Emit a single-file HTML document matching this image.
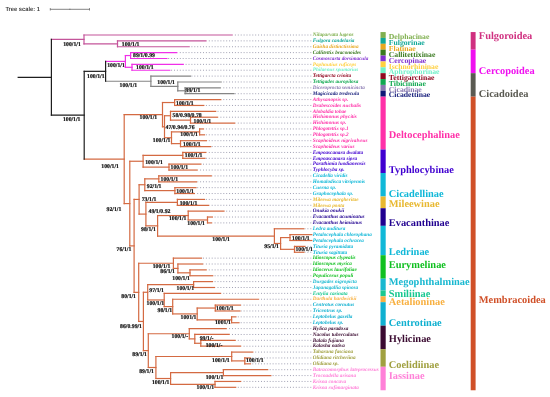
<!DOCTYPE html>
<html><head><meta charset="utf-8"><style>
html,body{margin:0;padding:0;background:#fff;}
svg{display:block;text-rendering:geometricPrecision;}
</style></head><body>
<svg width="550" height="397" viewBox="0 0 550 397">
<rect width="550" height="397" fill="#fff"/>
<text x="5.4" y="11.1" font-family="Liberation Sans, sans-serif" font-weight="bold" font-size="5.95" fill="#404040" textLength="34.6" lengthAdjust="spacingAndGlyphs">Tree scale: 1</text>
<g stroke="#666" stroke-width="0.8" fill="none"><path d="M50.3 9.3H89.5M50.3 8.1V10.5M89.5 8.1V10.5M69.9 8.7V9.9"/></g>
<g stroke="#a2a2b4" stroke-width="1.0" stroke-dasharray="1.0 1.9" fill="none">
<path d="M311.3 35.00H233.2"/>
<path d="M311.3 40.87H207.0"/>
<path d="M311.3 46.74H190.2"/>
<path d="M311.3 52.62H177.8"/>
<path d="M311.3 58.49H167.9"/>
<path d="M311.3 64.36H184.3"/>
<path d="M311.3 70.23H170.8"/>
<path d="M311.3 76.10H191.5"/>
<path d="M311.3 81.98H222.2"/>
<path d="M311.3 87.85H221.3"/>
<path d="M311.3 93.72H235.0"/>
<path d="M311.3 99.59H221.8"/>
<path d="M311.3 105.46H204.8"/>
<path d="M311.3 111.34H216.7"/>
<path d="M311.3 117.21H218.6"/>
<path d="M311.3 123.08H235.7"/>
<path d="M311.3 128.95H204.5"/>
<path d="M311.3 134.82H205.5"/>
<path d="M311.3 140.70H207.5"/>
<path d="M311.3 146.57H211.7"/>
<path d="M311.3 152.44H206.9"/>
<path d="M311.3 158.31H206.0"/>
<path d="M311.3 164.18H201.9"/>
<path d="M311.3 170.06H198.2"/>
<path d="M311.3 175.93H212.3"/>
<path d="M311.3 181.80H197.6"/>
<path d="M311.3 187.67H197.0"/>
<path d="M311.3 193.54H195.4"/>
<path d="M311.3 199.42H205.5"/>
<path d="M311.3 205.29H209.7"/>
<path d="M311.3 211.16H225.0"/>
<path d="M311.3 217.03H213.4"/>
<path d="M311.3 222.90H212.6"/>
<path d="M311.3 228.78H304.9"/>
<path d="M311.3 246.39H306.0"/>
<path d="M311.3 252.26H305.0"/>
<path d="M311.3 258.14H202.5"/>
<path d="M311.3 264.01H203.6"/>
<path d="M311.3 269.88H207.2"/>
<path d="M311.3 275.75H213.7"/>
<path d="M311.3 281.62H213.5"/>
<path d="M311.3 287.50H215.5"/>
<path d="M311.3 293.37H221.6"/>
<path d="M311.3 299.24H259.6"/>
<path d="M311.3 305.11H241.4"/>
<path d="M311.3 310.98H241.0"/>
<path d="M311.3 316.86H236.9"/>
<path d="M311.3 322.73H240.0"/>
<path d="M311.3 328.60H227.2"/>
<path d="M311.3 334.47H230.2"/>
<path d="M311.3 340.34H236.2"/>
<path d="M311.3 346.22H241.6"/>
<path d="M311.3 352.09H253.8"/>
<path d="M311.3 357.96H251.5"/>
<path d="M311.3 363.83H251.5"/>
<path d="M311.3 369.70H268.7"/>
<path d="M311.3 375.58H271.8"/>
<path d="M311.3 381.45H241.7"/>
<path d="M311.3 387.32H236.7"/>
</g>
<g stroke-width="1.2" stroke-linecap="square" fill="none">
<path d="M84.0 35.00L232.2 35.00" stroke="#c4559a"/>
<path d="M117.5 40.87L206.0 40.87" stroke="#c4559a"/>
<path d="M117.5 46.74L189.2 46.74" stroke="#c4559a"/>
<path d="M117.5 40.87L117.5 46.74" stroke="#c4559a"/>
<path d="M84.0 43.81L117.5 43.81" stroke="#c4559a"/>
<path d="M84.0 35.00L84.0 43.81" stroke="#c4559a"/>
<path d="M51.4 39.40L84.0 39.40" stroke="#c4559a"/>
<path d="M130.6 52.62L176.8 52.62" stroke="#f030e8"/>
<path d="M130.6 58.49L166.9 58.49" stroke="#f030e8"/>
<path d="M130.6 52.62L130.6 58.49" stroke="#f030e8"/>
<path d="M125.4 55.55L130.6 55.55" stroke="#f030e8"/>
<path d="M132.0 64.36L183.3 64.36" stroke="#f030e8"/>
<path d="M132.0 70.23L169.8 70.23" stroke="#f030e8"/>
<path d="M132.0 64.36L132.0 70.23" stroke="#f030e8"/>
<path d="M125.4 67.30L132.0 67.30" stroke="#f030e8"/>
<path d="M125.4 55.55L125.4 67.30" stroke="#f030e8"/>
<path d="M105.6 61.42L125.4 61.42" stroke="#f030e8"/>
<path d="M150.9 76.10L190.5 76.10" stroke="#858585"/>
<path d="M177.8 81.98L221.2 81.98" stroke="#858585"/>
<path d="M185.1 87.85L220.3 87.85" stroke="#858585"/>
<path d="M185.1 93.72L234.0 93.72" stroke="#858585"/>
<path d="M185.1 87.85L185.1 93.72" stroke="#858585"/>
<path d="M177.8 90.78L185.1 90.78" stroke="#858585"/>
<path d="M177.8 81.98L177.8 90.78" stroke="#858585"/>
<path d="M150.9 86.38L177.8 86.38" stroke="#858585"/>
<path d="M150.9 76.10L150.9 86.38" stroke="#858585"/>
<path d="M105.6 81.24L150.9 81.24" stroke="#858585"/>
<path d="M105.6 61.42L105.6 81.24" stroke="#1e1e1e"/>
<path d="M84.2 71.33L105.6 71.33" stroke="#1e1e1e"/>
<path d="M174.6 99.59L220.8 99.59" stroke="#d46a42"/>
<path d="M174.6 105.46L203.8 105.46" stroke="#d46a42"/>
<path d="M174.6 99.59L174.6 105.46" stroke="#d46a42"/>
<path d="M162.5 102.53L174.6 102.53" stroke="#d46a42"/>
<path d="M170.5 111.34L215.7 111.34" stroke="#d46a42"/>
<path d="M190.5 117.21L217.6 117.21" stroke="#d46a42"/>
<path d="M190.5 123.08L234.7 123.08" stroke="#d46a42"/>
<path d="M190.5 117.21L190.5 123.08" stroke="#d46a42"/>
<path d="M170.5 120.14L190.5 120.14" stroke="#d46a42"/>
<path d="M170.5 111.34L170.5 120.14" stroke="#d46a42"/>
<path d="M164.5 115.74L170.5 115.74" stroke="#d46a42"/>
<path d="M199.6 128.95L203.5 128.95" stroke="#d46a42"/>
<path d="M199.6 134.82L204.5 134.82" stroke="#d46a42"/>
<path d="M199.6 128.95L199.6 134.82" stroke="#d46a42"/>
<path d="M171.5 131.89L199.6 131.89" stroke="#d46a42"/>
<path d="M180.5 140.70L206.5 140.70" stroke="#d46a42"/>
<path d="M180.5 146.57L210.7 146.57" stroke="#d46a42"/>
<path d="M180.5 140.70L180.5 146.57" stroke="#d46a42"/>
<path d="M171.5 143.63L180.5 143.63" stroke="#d46a42"/>
<path d="M171.5 131.89L171.5 143.63" stroke="#d46a42"/>
<path d="M164.5 137.76L171.5 137.76" stroke="#d46a42"/>
<path d="M164.5 115.74L164.5 137.76" stroke="#d46a42"/>
<path d="M162.5 126.75L164.5 126.75" stroke="#d46a42"/>
<path d="M162.5 102.53L162.5 126.75" stroke="#d46a42"/>
<path d="M124.2 114.64L162.5 114.64" stroke="#d46a42"/>
<path d="M182.8 152.44L205.9 152.44" stroke="#d46a42"/>
<path d="M182.8 158.31L205.0 158.31" stroke="#d46a42"/>
<path d="M182.8 152.44L182.8 158.31" stroke="#d46a42"/>
<path d="M143.1 155.38L182.8 155.38" stroke="#d46a42"/>
<path d="M169.0 164.18L200.9 164.18" stroke="#d46a42"/>
<path d="M169.0 170.06L197.2 170.06" stroke="#d46a42"/>
<path d="M169.0 164.18L169.0 170.06" stroke="#d46a42"/>
<path d="M143.1 167.12L169.0 167.12" stroke="#d46a42"/>
<path d="M143.1 155.38L143.1 167.12" stroke="#d46a42"/>
<path d="M129.8 161.25L143.1 161.25" stroke="#d46a42"/>
<path d="M158.8 175.93L211.3 175.93" stroke="#d46a42"/>
<path d="M158.8 181.80L196.6 181.80" stroke="#d46a42"/>
<path d="M158.8 175.93L158.8 181.80" stroke="#d46a42"/>
<path d="M144.8 178.86L158.8 178.86" stroke="#d46a42"/>
<path d="M174.9 187.67L196.0 187.67" stroke="#d46a42"/>
<path d="M174.9 193.54L194.4 193.54" stroke="#d46a42"/>
<path d="M174.9 187.67L174.9 193.54" stroke="#d46a42"/>
<path d="M144.8 190.61L174.9 190.61" stroke="#d46a42"/>
<path d="M144.8 178.86L144.8 190.61" stroke="#d46a42"/>
<path d="M139.1 184.74L144.8 184.74" stroke="#d46a42"/>
<path d="M177.4 199.42L204.5 199.42" stroke="#d46a42"/>
<path d="M177.4 205.29L208.7 205.29" stroke="#d46a42"/>
<path d="M177.4 199.42L177.4 205.29" stroke="#d46a42"/>
<path d="M145.9 202.35L177.4 202.35" stroke="#d46a42"/>
<path d="M188.2 211.16L224.0 211.16" stroke="#d46a42"/>
<path d="M207.5 217.03L212.4 217.03" stroke="#d46a42"/>
<path d="M207.5 222.90L211.6 222.90" stroke="#d46a42"/>
<path d="M207.5 217.03L207.5 222.90" stroke="#d46a42"/>
<path d="M188.2 219.97L207.5 219.97" stroke="#d46a42"/>
<path d="M188.2 211.16L188.2 219.97" stroke="#d46a42"/>
<path d="M157.6 215.56L188.2 215.56" stroke="#d46a42"/>
<path d="M274.4 228.78L303.9 228.78" stroke="#d46a42"/>
<path d="M290.0 234.65L311.8 234.65" stroke="#d46a42"/>
<path d="M290.0 240.52L311.8 240.52" stroke="#d46a42"/>
<path d="M290.0 234.65L290.0 240.52" stroke="#d46a42"/>
<path d="M280.6 237.58L290.0 237.58" stroke="#d46a42"/>
<path d="M294.5 246.39L305.0 246.39" stroke="#d46a42"/>
<path d="M294.5 252.26L304.0 252.26" stroke="#d46a42"/>
<path d="M294.5 246.39L294.5 252.26" stroke="#d46a42"/>
<path d="M280.6 249.33L294.5 249.33" stroke="#d46a42"/>
<path d="M280.6 237.58L280.6 249.33" stroke="#d46a42"/>
<path d="M274.4 243.46L280.6 243.46" stroke="#d46a42"/>
<path d="M274.4 228.78L274.4 243.46" stroke="#d46a42"/>
<path d="M157.6 236.12L274.4 236.12" stroke="#d46a42"/>
<path d="M157.6 215.56L157.6 236.12" stroke="#d46a42"/>
<path d="M145.9 225.84L157.6 225.84" stroke="#d46a42"/>
<path d="M145.9 202.35L145.9 225.84" stroke="#d46a42"/>
<path d="M139.1 214.10L145.9 214.10" stroke="#d46a42"/>
<path d="M139.1 184.74L139.1 214.10" stroke="#d46a42"/>
<path d="M134.1 199.42L139.1 199.42" stroke="#d46a42"/>
<path d="M173.4 258.14L201.5 258.14" stroke="#d46a42"/>
<path d="M177.9 264.01L202.6 264.01" stroke="#d46a42"/>
<path d="M190.0 269.88L206.2 269.88" stroke="#d46a42"/>
<path d="M190.0 275.75L212.7 275.75" stroke="#d46a42"/>
<path d="M190.0 269.88L190.0 275.75" stroke="#d46a42"/>
<path d="M177.9 272.82L190.0 272.82" stroke="#d46a42"/>
<path d="M177.9 264.01L177.9 272.82" stroke="#d46a42"/>
<path d="M173.4 268.41L177.9 268.41" stroke="#d46a42"/>
<path d="M173.4 258.14L173.4 268.41" stroke="#d46a42"/>
<path d="M138.7 263.27L173.4 263.27" stroke="#d46a42"/>
<path d="M193.6 281.62L212.5 281.62" stroke="#d46a42"/>
<path d="M193.6 287.50L214.5 287.50" stroke="#d46a42"/>
<path d="M193.6 281.62L193.6 287.50" stroke="#d46a42"/>
<path d="M147.7 284.56L193.6 284.56" stroke="#d46a42"/>
<path d="M164.2 293.37L220.6 293.37" stroke="#d46a42"/>
<path d="M172.7 299.24L258.6 299.24" stroke="#d46a42"/>
<path d="M215.3 305.11L240.4 305.11" stroke="#d46a42"/>
<path d="M215.3 310.98L240.0 310.98" stroke="#d46a42"/>
<path d="M215.3 305.11L215.3 310.98" stroke="#d46a42"/>
<path d="M197.2 308.05L215.3 308.05" stroke="#d46a42"/>
<path d="M231.6 316.86L235.9 316.86" stroke="#d46a42"/>
<path d="M231.6 322.73L239.0 322.73" stroke="#d46a42"/>
<path d="M231.6 316.86L231.6 322.73" stroke="#d46a42"/>
<path d="M197.2 319.79L231.6 319.79" stroke="#d46a42"/>
<path d="M197.2 308.05L197.2 319.79" stroke="#d46a42"/>
<path d="M172.7 313.92L197.2 313.92" stroke="#d46a42"/>
<path d="M172.7 299.24L172.7 313.92" stroke="#d46a42"/>
<path d="M164.2 306.58L172.7 306.58" stroke="#d46a42"/>
<path d="M164.2 293.37L164.2 306.58" stroke="#d46a42"/>
<path d="M147.7 299.97L164.2 299.97" stroke="#d46a42"/>
<path d="M147.7 284.56L147.7 299.97" stroke="#d46a42"/>
<path d="M143.4 292.27L147.7 292.27" stroke="#d46a42"/>
<path d="M189.3 328.60L226.2 328.60" stroke="#d46a42"/>
<path d="M194.8 334.47L229.2 334.47" stroke="#d46a42"/>
<path d="M200.8 340.34L235.2 340.34" stroke="#d46a42"/>
<path d="M200.8 346.22L240.6 346.22" stroke="#d46a42"/>
<path d="M200.8 340.34L200.8 346.22" stroke="#d46a42"/>
<path d="M194.8 343.28L200.8 343.28" stroke="#d46a42"/>
<path d="M194.8 334.47L194.8 343.28" stroke="#d46a42"/>
<path d="M189.3 338.88L194.8 338.88" stroke="#d46a42"/>
<path d="M189.3 328.60L189.3 338.88" stroke="#d46a42"/>
<path d="M148.3 333.74L189.3 333.74" stroke="#d46a42"/>
<path d="M231.7 352.09L252.8 352.09" stroke="#d46a42"/>
<path d="M244.8 357.96L250.5 357.96" stroke="#d46a42"/>
<path d="M244.8 363.83L250.5 363.83" stroke="#d46a42"/>
<path d="M244.8 357.96L244.8 363.83" stroke="#d46a42"/>
<path d="M231.7 360.90L244.8 360.90" stroke="#d46a42"/>
<path d="M231.7 352.09L231.7 360.90" stroke="#d46a42"/>
<path d="M155.9 356.49L231.7 356.49" stroke="#d46a42"/>
<path d="M223.4 369.70L267.7 369.70" stroke="#d46a42"/>
<path d="M223.4 375.58L270.8 375.58" stroke="#d46a42"/>
<path d="M223.4 369.70L223.4 375.58" stroke="#d46a42"/>
<path d="M170.6 372.64L223.4 372.64" stroke="#d46a42"/>
<path d="M215.0 381.45L240.7 381.45" stroke="#d46a42"/>
<path d="M215.0 387.32L235.7 387.32" stroke="#d46a42"/>
<path d="M215.0 381.45L215.0 387.32" stroke="#d46a42"/>
<path d="M170.6 384.38L215.0 384.38" stroke="#d46a42"/>
<path d="M170.6 372.64L170.6 384.38" stroke="#d46a42"/>
<path d="M155.9 378.51L170.6 378.51" stroke="#d46a42"/>
<path d="M155.9 356.49L155.9 378.51" stroke="#d46a42"/>
<path d="M148.3 367.50L155.9 367.50" stroke="#d46a42"/>
<path d="M148.3 333.74L148.3 367.50" stroke="#d46a42"/>
<path d="M143.4 350.62L148.3 350.62" stroke="#d46a42"/>
<path d="M143.4 292.27L143.4 350.62" stroke="#d46a42"/>
<path d="M138.7 321.44L143.4 321.44" stroke="#d46a42"/>
<path d="M138.7 263.27L138.7 321.44" stroke="#d46a42"/>
<path d="M134.1 292.36L138.7 292.36" stroke="#d46a42"/>
<path d="M134.1 199.42L134.1 292.36" stroke="#d46a42"/>
<path d="M129.8 245.89L134.1 245.89" stroke="#d46a42"/>
<path d="M129.8 161.25L129.8 245.89" stroke="#d46a42"/>
<path d="M124.2 203.57L129.8 203.57" stroke="#d46a42"/>
<path d="M124.2 114.64L124.2 203.57" stroke="#d46a42"/>
<path d="M84.2 159.10L124.2 159.10" stroke="#d46a42"/>
<path d="M84.2 71.33L84.2 159.10" stroke="#1e1e1e"/>
<path d="M51.4 115.22L84.2 115.22" stroke="#1e1e1e"/>
<path d="M51.4 39.40L51.4 115.22" stroke="#1e1e1e"/>
<path d="M18.2 77.31L51.4 77.31" stroke="#1e1e1e"/>
</g>
<g font-family="Liberation Serif, serif" font-weight="bold" font-size="5.75" fill="#111" stroke="#111" stroke-width="0.2">
<text x="63.20" y="45.75">100/1/1</text>
<text x="121.80" y="45.75">100/1/1</text>
<text x="133.00" y="56.75">89/1/0.99</text>
<text x="136.00" y="69.35">100/1/1</text>
<text x="107.20" y="67.25">100/1/1</text>
<text x="87.00" y="78.25">100/1/1</text>
<text x="119.60" y="86.95">100/1/1</text>
<text x="157.30" y="84.35">100/1/1</text>
<text x="185.60" y="91.65">99/1/1</text>
<text x="62.90" y="120.65">100/1/1</text>
<text x="101.30" y="167.65">100/1/1</text>
<text x="139.60" y="119.15">100/1/1</text>
<text x="176.00" y="104.85">100/1/1</text>
<text x="172.60" y="116.75">58/0.98/0.78</text>
<text x="193.60" y="122.55">100/1/1</text>
<text x="165.50" y="128.75">47/0.94/0.76</text>
<text x="180.30" y="136.35">100/1/1</text>
<text x="183.00" y="145.65">100/1/1</text>
<text x="152.80" y="142.05">100/1/1</text>
<text x="145.20" y="164.15">100/1/1</text>
<text x="184.80" y="157.25">100/1/1</text>
<text x="170.50" y="169.15">100/1/1</text>
<text x="160.50" y="181.15">100/1/1</text>
<text x="176.30" y="192.55">100/1/1</text>
<text x="146.80" y="187.75">92/1/1</text>
<text x="141.70" y="200.65">73/1/1</text>
<text x="179.70" y="204.95">100/1/1</text>
<text x="148.50" y="212.55">49/1/0.92</text>
<text x="168.90" y="220.45">100/1/1</text>
<text x="187.30" y="225.45">100/1/1</text>
<text x="141.10" y="231.25">98/1/1</text>
<text x="212.30" y="240.95">100/1/1</text>
<text x="264.30" y="247.65">95/1/1</text>
<text x="292.10" y="239.75">100/1/1</text>
<text x="295.40" y="251.15">100/1/1</text>
<text x="106.60" y="210.55">92/1/1</text>
<text x="116.60" y="251.35">76/1/1</text>
<text x="152.70" y="267.95">100/1/1</text>
<text x="160.30" y="273.05">86/1/1</text>
<text x="172.30" y="279.55">100/1/1</text>
<text x="176.50" y="289.55">100/1/1</text>
<text x="149.30" y="291.95">97/1/1</text>
<text x="146.60" y="304.85">100/1/1</text>
<text x="157.50" y="312.15">98/1/1</text>
<text x="180.50" y="319.05">1001/1</text>
<text x="216.00" y="310.45">100/1/1</text>
<text x="214.90" y="324.45">1001/1</text>
<text x="120.10" y="327.55">86/0.99/1</text>
<text x="171.50" y="338.25">100/1/-</text>
<text x="199.70" y="339.75">99/1/-</text>
<text x="205.70" y="346.75">100/1/-</text>
<text x="132.30" y="356.15">89/1/1</text>
<text x="212.10" y="361.65">100/1/1</text>
<text x="246.00" y="362.15">100/1/1</text>
<text x="139.20" y="373.35">89/1/1</text>
<text x="151.90" y="384.45">100/1/1</text>
<text x="205.70" y="378.95">100/1/1</text>
<text x="196.60" y="389.15">100/1/1</text>
<text x="121.30" y="297.55">80/1/1</text>
</g>
<g font-family="Liberation Serif, serif" font-weight="bold" font-style="italic" font-size="5.2">
<text x="312.8" y="36.25" fill="#80b050">Nilaparvata lugens</text>
<text x="312.8" y="42.12" fill="#10a898">Fulgora candelaria</text>
<text x="312.8" y="47.99" fill="#e8a820">Gaisha distinctissima</text>
<text x="312.8" y="53.87" fill="#3a7a20">Callitettix braconoides</text>
<text x="312.8" y="59.74" fill="#8030d0">Cosmoscarta dorsimacula</text>
<text x="312.8" y="65.61" fill="#ffd040">Paphnutius ruficeps</text>
<text x="312.8" y="71.48" fill="#70f0c8">Philaenus spumarius</text>
<text x="312.8" y="77.35" fill="#900820">Tettigarcta crinita</text>
<text x="312.8" y="83.23" fill="#10a850">Tettigades auropilosa</text>
<text x="312.8" y="89.10" fill="#8878b0">Diceroprocta semicincta</text>
<text x="312.8" y="94.97" fill="#101878">Magicicada tredecula</text>
<text x="312.8" y="100.84" fill="#ff30a8">Athysanopsis sp.</text>
<text x="312.8" y="106.71" fill="#ff30a8">Drabescoides nuchalis</text>
<text x="312.8" y="112.59" fill="#ff30a8">Alobaldia tobae</text>
<text x="312.8" y="118.46" fill="#ff30a8">Hishimonus phycitis</text>
<text x="312.8" y="124.33" fill="#ff30a8">Hishimonus sp.</text>
<text x="312.8" y="130.20" fill="#ff30a8">Phlogotettix sp.1</text>
<text x="312.8" y="136.07" fill="#ff30a8">Phlogotettix sp.2</text>
<text x="312.8" y="141.95" fill="#ff30a8">Scaphoideus nigrivalveus</text>
<text x="312.8" y="147.82" fill="#ff30a8">Scaphoideus varius</text>
<text x="312.8" y="153.69" fill="#4000d0">Empoascanara dwalata</text>
<text x="312.8" y="159.56" fill="#4000d0">Empoascanara sipra</text>
<text x="312.8" y="165.43" fill="#4000d0">Parathimia luodianensis</text>
<text x="312.8" y="171.31" fill="#4000d0">Typhlocyba sp.</text>
<text x="312.8" y="177.18" fill="#10b8d8">Cicadella viridis</text>
<text x="312.8" y="183.05" fill="#10b8d8">Homalodisca vitripennis</text>
<text x="312.8" y="188.92" fill="#10b8d8">Cuerna sp.</text>
<text x="312.8" y="194.79" fill="#10b8d8">Graphocephala sp.</text>
<text x="312.8" y="200.67" fill="#e8b830">Mileewa margheritae</text>
<text x="312.8" y="206.54" fill="#e8b830">Mileewa ponta</text>
<text x="312.8" y="212.41" fill="#200090">Onukia onukii</text>
<text x="312.8" y="218.28" fill="#200090">Evacanthus acuminatus</text>
<text x="312.8" y="224.15" fill="#200090">Evacanthus heimianus</text>
<text x="312.8" y="230.03" fill="#10b8d8">Ledra auditura</text>
<text x="312.8" y="235.90" fill="#10b8d8">Petalocephala chlorophana</text>
<text x="312.8" y="241.77" fill="#10b8d8">Petalocephala ochracea</text>
<text x="312.8" y="247.64" fill="#10b8d8">Tituria pyramidata</text>
<text x="312.8" y="253.51" fill="#10b8d8">Tituria sagittata</text>
<text x="312.8" y="259.39" fill="#10c020">Idioscopus clypealis</text>
<text x="312.8" y="265.26" fill="#10c020">Idioscopus myrica</text>
<text x="312.8" y="271.13" fill="#10c020">Idiocerus laurifoliae</text>
<text x="312.8" y="277.00" fill="#10c020">Populicerus populi</text>
<text x="312.8" y="282.87" fill="#18b8d0">Durgades nigropicta</text>
<text x="312.8" y="288.75" fill="#18b8d0">Japanagallia spinosa</text>
<text x="312.8" y="294.62" fill="#18c890">Entylia carinata</text>
<text x="312.8" y="300.49" fill="#f8b040">Darthula hardwickii</text>
<text x="312.8" y="306.36" fill="#10b0d0">Centrotus cornutus</text>
<text x="312.8" y="312.23" fill="#10b0d0">Tricentrus sp.</text>
<text x="312.8" y="318.11" fill="#10b0d0">Leptobelus gazella</text>
<text x="312.8" y="323.98" fill="#10b0d0">Leptobelus sp.</text>
<text x="312.8" y="329.85" fill="#3a0a30">Hylica paradoxa</text>
<text x="312.8" y="335.72" fill="#3a0a30">Nacolus tuberculatus</text>
<text x="312.8" y="341.59" fill="#3a0a30">Balala fujiana</text>
<text x="312.8" y="347.47" fill="#3a0a30">Kalasha nativa</text>
<text x="312.8" y="353.34" fill="#a0a040">Taharana fasciana</text>
<text x="312.8" y="359.21" fill="#a0a040">Olidiana ritcheriina</text>
<text x="312.8" y="365.08" fill="#a0a040">Olidiana sp.</text>
<text x="312.8" y="370.95" fill="#ff80d8">Batracomorphus lateprocessus</text>
<text x="312.8" y="376.83" fill="#ff80d8">Trocnadella arisana</text>
<text x="312.8" y="382.70" fill="#ff80d8">Krisna concava</text>
<text x="312.8" y="388.57" fill="#ff80d8">Krisna rufimarginata</text>
</g>
<rect x="380.5" y="32.06" width="5.2" height="5.87" fill="#80b050"/>
<rect x="380.5" y="37.94" width="5.2" height="5.87" fill="#10a898"/>
<rect x="380.5" y="43.81" width="5.2" height="5.87" fill="#e8a820"/>
<rect x="380.5" y="49.68" width="5.2" height="5.87" fill="#3a7a20"/>
<rect x="380.5" y="55.55" width="5.2" height="5.87" fill="#8030d0"/>
<rect x="380.5" y="61.42" width="5.2" height="5.87" fill="#ffd040"/>
<rect x="380.5" y="67.30" width="5.2" height="5.87" fill="#70f0c8"/>
<rect x="380.5" y="73.17" width="5.2" height="5.87" fill="#900820"/>
<rect x="380.5" y="79.04" width="5.2" height="5.87" fill="#10a850"/>
<rect x="380.5" y="84.91" width="5.2" height="5.87" fill="#8878b0"/>
<rect x="380.5" y="90.78" width="5.2" height="5.87" fill="#101878"/>
<rect x="380.5" y="96.66" width="5.2" height="52.85" fill="#ff30a8"/>
<rect x="380.5" y="149.50" width="5.2" height="23.49" fill="#4000d0"/>
<rect x="380.5" y="172.99" width="5.2" height="23.49" fill="#10b8d8"/>
<rect x="380.5" y="196.48" width="5.2" height="11.74" fill="#e8b830"/>
<rect x="380.5" y="208.22" width="5.2" height="17.62" fill="#200090"/>
<rect x="380.5" y="225.84" width="5.2" height="29.36" fill="#10b8d8"/>
<rect x="380.5" y="255.20" width="5.2" height="23.49" fill="#10c020"/>
<rect x="380.5" y="278.69" width="5.2" height="11.74" fill="#18b8d0"/>
<rect x="380.5" y="290.43" width="5.2" height="5.87" fill="#18c890"/>
<rect x="380.5" y="296.30" width="5.2" height="5.87" fill="#f8b040"/>
<rect x="380.5" y="302.18" width="5.2" height="23.49" fill="#10b0d0"/>
<rect x="380.5" y="325.66" width="5.2" height="23.49" fill="#3a0a30"/>
<rect x="380.5" y="349.15" width="5.2" height="17.62" fill="#a0a040"/>
<rect x="380.5" y="366.77" width="5.2" height="23.49" fill="#ff80d8"/>
<g font-family="Liberation Serif, serif" font-weight="bold">
<text x="388.8" y="39.24" font-size="7.7" fill="#80b050">Delphacinae</text>
<text x="388.8" y="45.04" font-size="7.7" fill="#10a898">Fulgorinae</text>
<text x="388.8" y="50.74" font-size="7.7" fill="#e8a820">Flatinae</text>
<text x="388.8" y="56.94" font-size="7.7" fill="#3a7a20">Callitettixinae</text>
<text x="388.8" y="63.04" font-size="7.7" fill="#8030d0">Cercopinae</text>
<text x="388.8" y="68.74" font-size="7.7" fill="#ffd040">Ischnorhininae</text>
<text x="388.8" y="74.14" font-size="7.7" fill="#70f0c8">Aphrophorinae</text>
<text x="388.8" y="79.84" font-size="7.7" fill="#900820">Tettigarctinae</text>
<text x="388.8" y="85.64" font-size="7.7" fill="#10a850">Tibicininae</text>
<text x="388.8" y="91.64" font-size="7.7" fill="#8878b0">Cicadinae</text>
<text x="388.8" y="97.44" font-size="7.7" fill="#101878">Cicadettinae</text>
<text x="388.8" y="138.13" font-size="10.4" fill="#ff30a8">Deltocephalinae</text>
<text x="388.8" y="173.23" font-size="10.4" fill="#4000d0">Typhlocybinae</text>
<text x="388.8" y="196.53" font-size="10.4" fill="#10b8d8">Cicadellinae</text>
<text x="388.8" y="207.03" font-size="10.4" fill="#e8b830">Mileewinae</text>
<text x="388.8" y="226.23" font-size="10.4" fill="#200090">Evacanthinae</text>
<text x="388.8" y="255.03" font-size="10.4" fill="#10b8d8">Ledrinae</text>
<text x="388.8" y="267.53" font-size="10.4" fill="#10c020">Eurymelinae</text>
<text x="388.8" y="285.13" font-size="10.4" fill="#18b8d0">Megophthalminae</text>
<text x="388.8" y="296.53" font-size="10.4" fill="#18c890">Smiliinae</text>
<text x="388.8" y="305.13" font-size="10.4" fill="#f8b040">Aetalioninae</text>
<text x="388.8" y="326.03" font-size="10.4" fill="#10b0d0">Centrotinae</text>
<text x="388.8" y="341.83" font-size="10.4" fill="#3a0a30">Hylicinae</text>
<text x="388.8" y="367.63" font-size="10.4" fill="#a0a040">Coelidiinae</text>
<text x="388.8" y="379.23" font-size="10.4" fill="#ff80d8">Iassinae</text>
</g>
<rect x="470.7" y="32.06" width="4.9" height="17.62" fill="#d03080"/>
<rect x="470.7" y="49.68" width="4.9" height="23.49" fill="#f010f0"/>
<rect x="470.7" y="73.17" width="4.9" height="23.49" fill="#5a5a52"/>
<rect x="470.7" y="96.66" width="4.9" height="293.60" fill="#d05028"/>
<g font-family="Liberation Serif, serif" font-weight="bold" font-size="10.4">
<text x="478.8" y="38.50" fill="#d03080">Fulgoroidea</text>
<text x="478.8" y="73.80" fill="#f010f0">Cercopoidea</text>
<text x="478.8" y="97.00" fill="#5a5a52">Cicadoidea</text>
<text x="478.8" y="303.00" fill="#d05028">Membracoidea</text>
</g>
</svg>
</body></html>
